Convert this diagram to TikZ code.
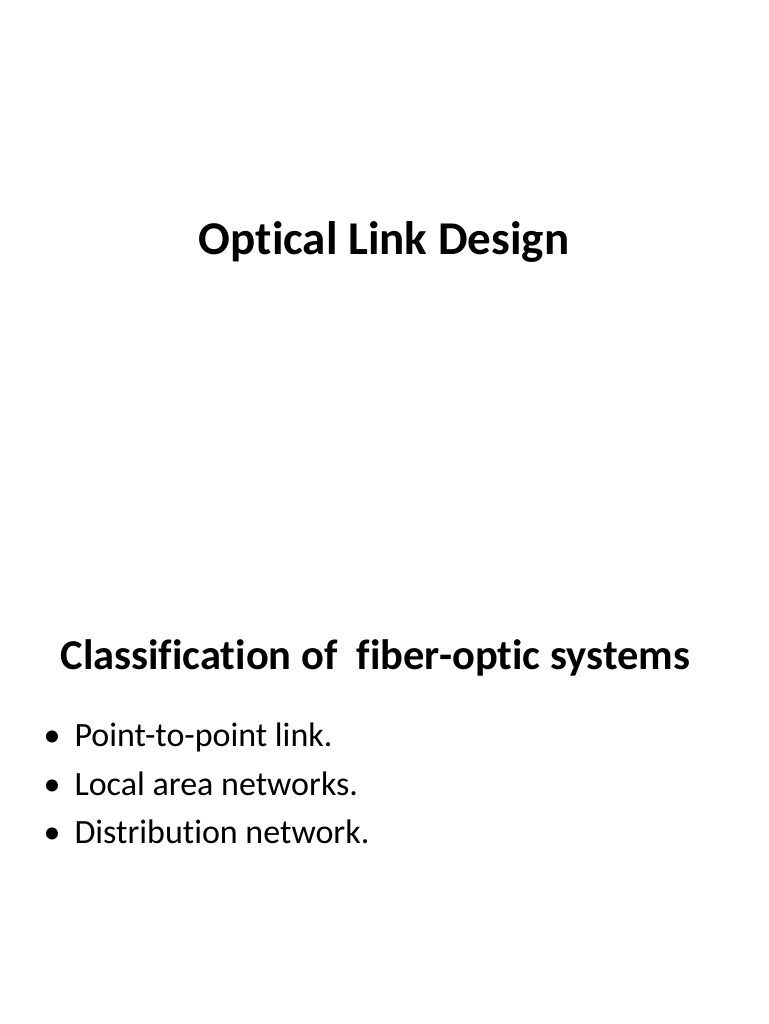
\documentclass[tikz,border=0pt]{standalone}
\usepackage{fontspec}
\setmainfont[Ligatures=NoCommon]{Carlito}
\begin{document}
\begin{tikzpicture}[x=1pt,y=-1pt,
 title/.style={font=\fontsize{47}{56}\selectfont\bfseries},
 head/.style={font=\fontsize{42.5}{50}\selectfont\bfseries, anchor=base west},
 item/.style={font=\fontsize{34}{40}\selectfont, anchor=base west}]
\useasboundingbox[fill=white] (0,0) rectangle (768,1024);
\node[title] (t) at (384,242) {Optical Link Design};
\node[head] (h) at (57,669) {Classification of\ \ fiber-optic systems};
\node[item] (bl1) at (40,746) {\textbullet};
\node[item] (b1) at (71,746) {Point-to-point link.};
\node[item] (bl2) at (40,795) {\textbullet};
\node[item] (b2) at (71,795) {Local area networks.};
\node[item] (bl3) at (40,843) {\textbullet};
\node[item] (b3) at (71,843) {Distribution network.};
\end{tikzpicture}
\end{document}
